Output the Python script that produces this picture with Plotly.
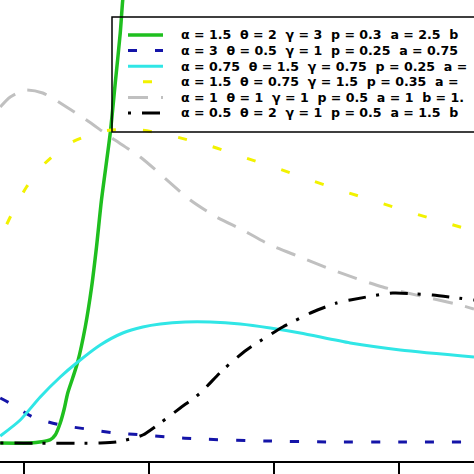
import plotly.graph_objects as go

# ── curve readings (x in axis units, y = density) ─────────────────────────────
x_green = [0.81, 1.05, 1.14, 1.21, 1.25, 1.29, 1.32, 1.35, 1.39, 1.43, 1.49, 1.54, 1.58, 1.62, 1.69, 1.73, 1.77, 1.79, 1.82]
y_green = [0, 0, 0.003, 0.008, 0.02, 0.05, 0.083, 0.125, 0.163, 0.203, 0.29, 0.388, 0.49, 0.608, 0.775, 0.9, 1.025, 1.108, 1.19]

x_blue = [0.81, 0.90, 1.07, 1.29, 1.50, 1.73, 1.95, 2.14, 2.41, 2.94, 3.47, 4.01, 4.60]
y_blue = [0.1125, 0.0975, 0.065, 0.045, 0.035, 0.025, 0.02, 0.015, 0.01, 0.005, 0.0025, 0.0025, 0.0025]

x_cyan = [0.81, 0.97, 1.13, 1.29, 1.43, 1.61, 1.79, 1.95, 2.09, 2.29, 2.49, 2.73, 2.97, 3.21, 3.61, 4.01, 4.60]
y_cyan = [0.0175, 0.0575, 0.115, 0.165, 0.2025, 0.245, 0.275, 0.29, 0.2975, 0.3025, 0.3025, 0.2975, 0.2875, 0.275, 0.25, 0.2325, 0.215]

x_yellow = [0.81, 0.91, 1.02, 1.17, 1.37, 1.63, 1.93, 2.22, 2.49, 2.75, 3.02, 3.29, 3.55, 3.83, 4.11, 4.38, 4.60]
y_yellow = [0.5125, 0.5775, 0.64, 0.70, 0.75, 0.78, 0.7825, 0.765, 0.7425, 0.715, 0.6875, 0.6575, 0.63, 0.6025, 0.575, 0.55, 0.53]

x_gray = [0.81, 0.89, 1.01, 1.15, 1.34, 1.50, 1.69, 1.93, 2.33, 2.54, 2.75, 2.97, 3.21, 3.47, 3.87, 4.49, 4.60]
y_gray = [0.84, 0.865, 0.8825, 0.875, 0.84, 0.8075, 0.765, 0.715, 0.6075, 0.565, 0.5325, 0.495, 0.465, 0.4325, 0.39, 0.345, 0.335]

x_black = [0.81, 1.61, 1.74, 1.85, 1.95, 2.09, 2.25, 2.41, 2.59, 2.78, 2.94, 3.07, 3.21, 3.31, 3.50, 3.61, 3.95, 4.14, 4.27, 4.60]
y_black = [0, 0, 0.0025, 0.01, 0.02, 0.05, 0.0875, 0.125, 0.1825, 0.2325, 0.265, 0.29, 0.3125, 0.3275, 0.35, 0.3575, 0.375, 0.3725, 0.37, 0.3575]

x_ticks = [1, 2, 3, 4]

# legend labels as far as they are visible in the cropped figure
labels = [
    "α = 1.5  θ = 2  γ = 3  p = 0.3  a = 2.5  b",
    "α = 3  θ = 0.5  γ = 1  p = 0.25  a = 0.75",
    "α = 0.75  θ = 1.5  γ = 0.75  p = 0.25  a =",
    "α = 1.5  θ = 0.75  γ = 1.5  p = 0.35  a =",
    "α = 1  θ = 1  γ = 1  p = 0.5  a = 1  b = 1.",
    "α = 0.5  θ = 2  γ = 1  p = 0.5  a = 1.5  b",
]

series = [
    (x_green, y_green, "#1fbf1f", "solid", 3.5),
    (x_blue, y_blue, "#1414a8", "9px,18px", 3),
    (x_cyan, y_cyan, "#30e6e6", "solid", 3),
    (x_yellow, y_yellow, "#f2f200", "0px,15px,9px,12px", 3),
    (x_gray, y_gray, "#c0c0c0", "20px,13px", 3),
    (x_black, y_black, "#000000", "3px,11px,18px,10px", 3),
]

W, H, B = 474, 474, 13
plot_h = H - B

fig = go.Figure()
for (xs, ys, col, dash, w), lab in zip(series, labels):
    fig.add_trace(go.Scatter(
        x=xs, y=ys, mode="lines", name=lab, showlegend=False,
        line=dict(color=col, dash=dash, width=w, shape="spline", smoothing=0.7),
    ))

# ── legend drawn by hand (R style box, keys + labels) ─────────────────────────
px = lambda v: v / W
py = lambda v: 1 - v / plot_h
leg_left, leg_top, leg_bottom = 112, 17, 132
row0, pitch = 35, 15.6
key_x0, key_x1, text_x = 128, 163, 179

shapes = [dict(type="rect", xref="paper", yref="paper",
               x0=px(leg_left), x1=1.05, y0=py(leg_bottom), y1=py(leg_top),
               line=dict(color="black", width=1.5), fillcolor="rgba(0,0,0,0)")]
annotations = []
for i, ((xs, ys, col, dash, w), lab) in enumerate(zip(series, labels)):
    yc = py(row0 + i * pitch)
    shapes.append(dict(type="line", xref="paper", yref="paper",
                       x0=px(key_x0), x1=px(key_x1), y0=yc, y1=yc,
                       line=dict(color=col, dash=dash, width=w)))
    annotations.append(dict(xref="paper", yref="paper", x=px(text_x), y=yc,
                            xanchor="left", yanchor="middle", showarrow=False,
                            text="<b>" + lab.replace(" ", "\u00a0") + "</b>",
                            font=dict(family="DejaVu Sans", size=12.6, color="black")))

fig.update_layout(
    width=W, height=H,
    margin=dict(l=0, r=0, t=0, b=B, autoexpand=False),
    plot_bgcolor="white",
    paper_bgcolor="white",
    showlegend=False,
    shapes=shapes,
    annotations=annotations,
    xaxis=dict(
        range=[0.808, 4.6], tickvals=x_ticks, showticklabels=False,
        ticks="outside", ticklen=13, tickwidth=2, tickcolor="black",
        showline=True, linecolor="black", linewidth=2,
        showgrid=False, zeroline=False,
    ),
    yaxis=dict(
        range=[-0.045, 1.1075], visible=False,
        showgrid=False, zeroline=False,
    ),
)

fig.write_html("out.html", config={"displayModeBar": False},
               post_script="document.body.style.margin='0px';")
